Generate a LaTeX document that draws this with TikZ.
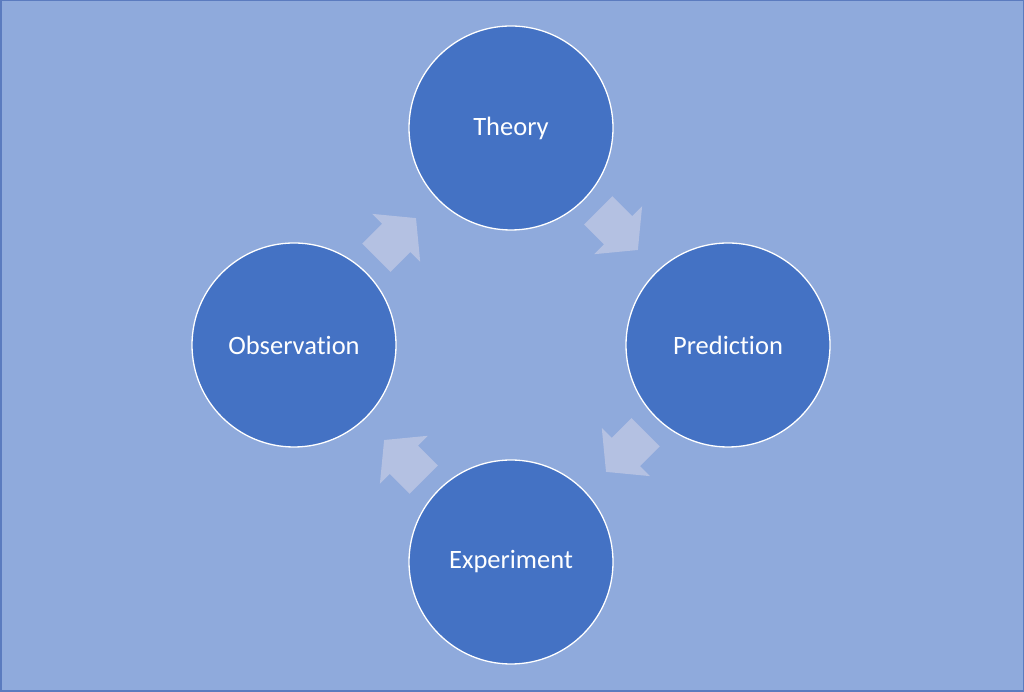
\documentclass[tikz,border=0pt]{standalone}
\usepackage{fontspec}
\setmainfont{Carlito}[Ligatures=NoCommon]
\usetikzlibrary{calc}
\definecolor{bg}{HTML}{8FAADC}
\definecolor{frame}{HTML}{5B7BBF}
\definecolor{disc}{HTML}{4472C4}
\definecolor{arr}{HTML}{B4C1E2}
\tikzset{
  stage/.style={circle, draw=white, line width=1.3pt, fill=disc, minimum size=204pt, inner sep=0pt,
    text=white, font=\fontsize{26.5}{31}\selectfont},
  blockarrow/.style={fill=arr, draw=none},
}
\begin{document}
\begin{tikzpicture}[x=1pt,y=1pt]
\useasboundingbox (0,0) rectangle (1024,692);
\fill[bg] (0,0) rectangle (1024,692);
\draw[frame, line width=1.5pt] (0.75,0.75) rectangle (1023.25,691.25);
\coordinate (c) at (511,347);
\node[stage] (theory) at ($(c)+(90:217)$) {Theory};
\node[stage] (prediction) at ($(c)+(0:217)$) {Prediction};
\node[stage] (experiment) at ($(c)+(-90:217)$) {Experiment};
\node[stage] (observation) at ($(c)+(180:217)$) {Observation};
\foreach \pos/\dir/\nm in {137/45/a1, 47/-45/a2, -43/-135/a3, 227/135/a4}{
  \coordinate (\nm) at ($(c)+(\pos:157)$);
  \fill[blockarrow, shift={(\nm)}, rotate=\dir]
    (-28,-20) -- (0,-20) -- (0,-34) -- (28,0) -- (0,34) -- (0,20) -- (-28,20) -- cycle;
}
\end{tikzpicture}
\end{document}
